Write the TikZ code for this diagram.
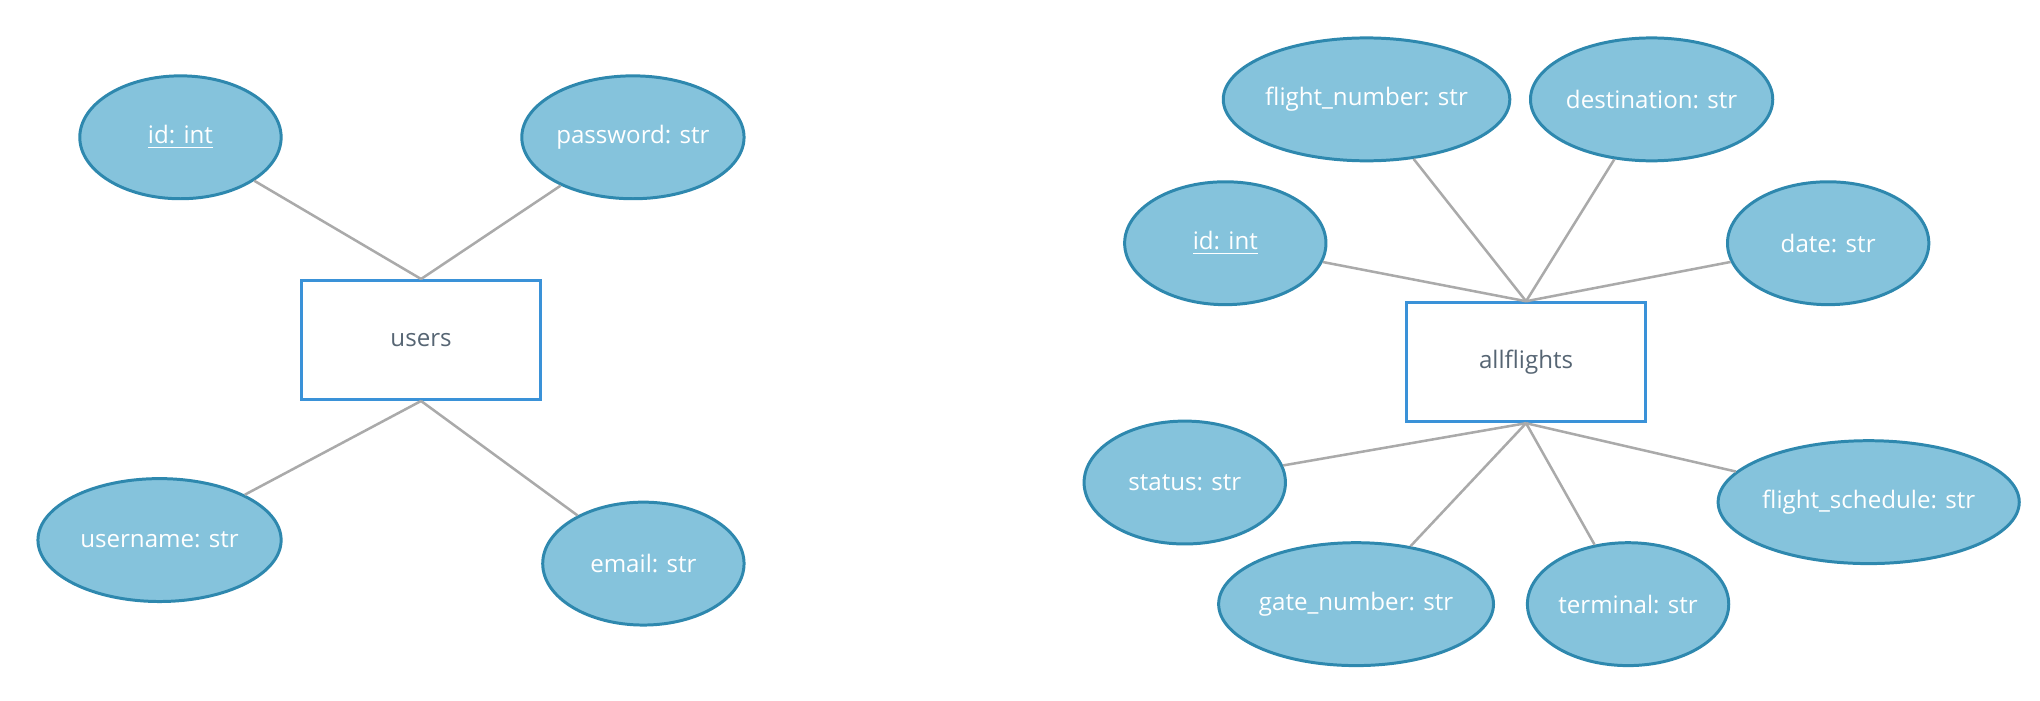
\documentclass[tikz,border=0pt]{standalone}
\usepackage{fontspec}
\setmainfont{Open Sans}
\usetikzlibrary{shapes.geometric}
\definecolor{efill}{HTML}{85C3DC}
\definecolor{edraw}{HTML}{2E88AE}
\definecolor{lgray}{HTML}{AAAAAA}
\definecolor{rblue}{HTML}{3A92D8}
\definecolor{rtext}{HTML}{566573}
\begin{document}
\begin{tikzpicture}[x=0.02cm,y=-0.02cm,
  attr/.style={ellipse,draw=edraw,fill=efill,line width=1.3pt,inner sep=0pt,minimum height=1.88cm,text=white,font=\fontsize{10.5}{12}\selectfont},
  ent/.style={rectangle,draw=rblue,line width=1.3pt,minimum width=3.66cm,minimum height=1.82cm,text=rtext,font=\fontsize{10.5}{12}\selectfont},
  link/.style={draw=lgray,line width=1.1pt}]
\useasboundingbox (0,0) rectangle (1560,536);
% users
\node[ent] (users) at (322,260) {users};
\node[attr,minimum width=3.08cm] (uid) at (138,105) {\underline{id: int}};
\node[attr,minimum width=3.4cm] (pw) at (484,105) {password: str};
\node[attr,minimum width=3.72cm] (un) at (122,413) {username: str};
\node[attr,minimum width=3.08cm] (em) at (492,431) {email: str};
\draw[link] (users.north) -- (uid);
\draw[link] (users.north) -- (pw);
\draw[link] (users.south) -- (un);
\draw[link] (users.south) -- (em);
% allflights
\node[ent] (af) at (1167,277) {allflights};
\node[attr,minimum width=4.32cm] (fn) at (1045,76) {flight\_number: str};
\node[attr,minimum width=3.08cm] (de) at (1263,76) {destination: str};
\node[attr,minimum width=3.08cm] (aid) at (937,186) {\underline{id: int}};
\node[attr,minimum width=3.08cm] (da) at (1398,186) {date: str};
\node[attr,minimum width=3.08cm] (st) at (906,369) {status: str};
\node[attr,minimum width=4.28cm] (fs) at (1429,384) {flight\_schedule: str};
\node[attr,minimum width=3.96cm] (gn) at (1037,462) {gate\_number: str};
\node[attr,minimum width=3.08cm] (te) at (1245,462) {terminal: str};
\foreach \n in {fn,de,aid,da} \draw[link] (af.north) -- (\n);
\foreach \n in {st,fs,gn,te} \draw[link] (af.south) -- (\n);
\end{tikzpicture}
\end{document}
